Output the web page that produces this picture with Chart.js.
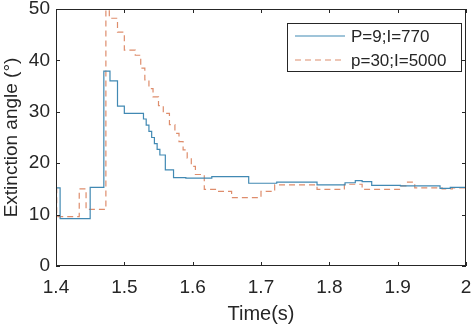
<!DOCTYPE html>
<html>
<head>
<meta charset="utf-8">
<script src="https://cdn.jsdelivr.net/npm/chart.js@4/dist/chart.umd.min.js"></script>
<style>
  html, body { margin: 0; padding: 0; background: #fff; }
  #wrap { width: 474px; height: 327px; }
</style>
</head>
<body>
<div id="wrap"><canvas id="angleChart"></canvas></div>
<script>
// Series labels
const seriesNames = ['P=9;I=770', 'p=30;I=5000'];

// P=9;I=770 : step start times (s) and extinction angle (deg)
const time1 = [1.400, 1.406, 1.450, 1.470, 1.479, 1.490, 1.500, 1.528, 1.532, 1.536, 1.540,
               1.544, 1.548, 1.552, 1.560, 1.572, 1.590, 1.628, 1.682, 1.723, 1.782, 1.823,
               1.838, 1.848, 1.862, 1.904, 1.962, 1.977, 2.000];
const angle1 = [15.2, 9.2, 15.3, 37.9, 36.0, 31.1, 29.7, 28.6, 27.4, 26.2, 25.0,
                23.8, 22.7, 21.6, 18.7, 17.2, 17.1, 17.4, 16.1, 16.3, 15.8, 16.2,
                16.6, 16.4, 15.7, 15.6, 15.1, 15.3, 15.3];

// p=30;I=5000
const time2 = [1.400, 1.401, 1.434, 1.444, 1.473, 1.478, 1.490, 1.500, 1.516, 1.524, 1.530,
               1.536, 1.542, 1.550, 1.557, 1.566, 1.574, 1.580, 1.586, 1.592, 1.598, 1.604,
               1.617, 1.636, 1.657, 1.700, 1.720, 1.782, 1.822, 1.848, 1.904, 1.912, 1.918,
               1.925, 1.965, 1.980, 2.000];
const angle2 = [15.2, 9.6, 15.0, 11.0, 49.8, 48.2, 45.5, 42.0, 41.0, 38.5, 36.2,
                34.5, 32.9, 31.2, 29.7, 27.5, 25.8, 24.2, 22.6, 21.0, 19.4, 17.8,
                14.9, 14.5, 13.3, 14.5, 15.8, 14.9, 15.9, 14.9, 15.6, 16.3, 16.3,
                15.2, 15.0, 15.2, 15.2];

// Axis ticks
const xTicks = [1.4, 1.5, 1.6, 1.7, 1.8, 1.9, 2.0];
const yTicks = [0, 10, 20, 30, 40, 50];

const textColor = '#262626';
const blue = '#4189b3';
const orange = '#de8d6c';
const fontFamily = '"Liberation Sans", Arial, sans-serif';

function toPoints(xs, ys) {
    return xs.map((x, i) => ({ x: x, y: ys[i] }));
}

// Draw MATLAB-like box with inward ticks and an inside legend
const boxPlugin = {
    id: 'boxPlugin',
    afterDraw(chart) {
        const ctx = chart.ctx;
        const a = chart.chartArea;
        const xs = chart.scales.x;
        const ys = chart.scales.y;
        const len = 4;
        ctx.save();
        ctx.strokeStyle = textColor;
        ctx.lineWidth = 1;
        ctx.strokeRect(a.left + 0.5, a.top + 0.5, a.right - a.left - 1, a.bottom - a.top - 1);
        ctx.beginPath();
        xTicks.forEach(v => {
            const px = Math.round(xs.getPixelForValue(v)) + 0.5;
            ctx.moveTo(px, a.bottom); ctx.lineTo(px, a.bottom - len);
            ctx.moveTo(px, a.top); ctx.lineTo(px, a.top + len);
        });
        yTicks.forEach(v => {
            const py = Math.round(ys.getPixelForValue(v)) + 0.5;
            ctx.moveTo(a.left, py); ctx.lineTo(a.left + len, py);
            ctx.moveTo(a.right, py); ctx.lineTo(a.right - len, py);
        });
        ctx.stroke();

        // legend
        const lw = 174, lh = 48;
        const lx = a.right - 5 - lw, ly = a.top + 14;
        ctx.fillStyle = '#fff';
        ctx.fillRect(lx, ly, lw, lh);
        ctx.strokeStyle = textColor;
        ctx.strokeRect(lx + 0.5, ly + 0.5, lw, lh);
        ctx.font = '17px ' + fontFamily;
        ctx.textBaseline = 'middle';
        chart.data.datasets.forEach((ds, i) => {
            const yy = ly + 13 + i * 24;
            ctx.beginPath();
            ctx.strokeStyle = ds.borderColor;
            ctx.lineWidth = 1.2;
            ctx.setLineDash(ds.borderDash || []);
            ctx.moveTo(lx + 8, yy);
            ctx.lineTo(lx + 58, yy);
            ctx.stroke();
            ctx.setLineDash([]);
            ctx.fillStyle = textColor;
            ctx.fillText(ds.label, lx + 64, yy + 1);
        });
        ctx.restore();
    }
};

new Chart(document.getElementById('angleChart'), {
    type: 'line',
    data: {
        datasets: [{
            label: seriesNames[0],
            data: toPoints(time1, angle1),
            borderColor: blue,
            borderWidth: 1.2,
            stepped: true,
            pointRadius: 0,
            fill: false
        }, {
            label: seriesNames[1],
            data: toPoints(time2, angle2),
            borderColor: orange,
            borderWidth: 1.2,
            borderDash: [6, 4],
            stepped: true,
            pointRadius: 0,
            fill: false
        }]
    },
    options: {
        responsive: true,
        maintainAspectRatio: false,
        animation: false,
        layout: { padding: { left: 0, right: 8, top: 9, bottom: 0 } },
        plugins: {
            legend: { display: false },
            tooltip: { enabled: false }
        },
        scales: {
            x: {
                type: 'linear',
                min: 1.4,
                max: 2.0,
                afterBuildTicks: s => { s.ticks = xTicks.map(v => ({ value: v })); },
                afterFit: s => { s.height = 61; s.paddingLeft = 0; s.paddingRight = 0; },
                grid: { display: false, drawTicks: false },
                border: { display: false },
                ticks: {
                    padding: 10,
                    color: textColor,
                    font: { size: 19, family: fontFamily },
                    callback: v => String(Number(v.toFixed(1)))
                },
                title: {
                    display: true,
                    text: 'Time(s)',
                    color: textColor,
                    padding: { top: 0, bottom: 1 },
                    font: { size: 20, family: fontFamily }
                }
            },
            y: {
                min: 0,
                max: 50,
                afterBuildTicks: s => { s.ticks = yTicks.map(v => ({ value: v })); },
                afterFit: s => { s.width = 56; s.paddingTop = 0; s.paddingBottom = 0; },
                grid: { display: false, drawTicks: false },
                border: { display: false },
                ticks: {
                    padding: 6,
                    color: textColor,
                    font: { size: 19, family: fontFamily }
                },
                title: {
                    display: true,
                    text: 'Extinction angle (°)',
                    color: textColor,
                    padding: { top: 0, bottom: 2 },
                    font: { size: 19, family: fontFamily }
                }
            }
        }
    },
    plugins: [boxPlugin]
});
</script>
</body>
</html>
